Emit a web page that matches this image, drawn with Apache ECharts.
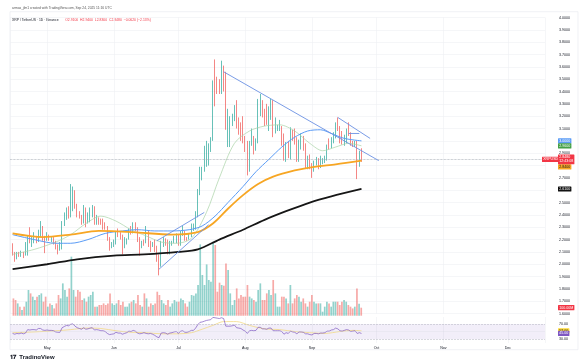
<!DOCTYPE html>
<html><head><meta charset="utf-8">
<script src="https://cdn.jsdelivr.net/npm/echarts@6/dist/echarts.min.js"></script>
<style>html,body{margin:0;padding:0;background:#fff}#c{width:585px;height:359px}</style>
</head><body><div id="c"></div>
<script>
// ---------- DATA ----------
const firstOpen = 2.13;
const closeApr = [2.08,2.05,2.08,2.07,2.09,2.07,2.09,2.20,2.19,2.20,2.20,2.19,2.27,2.27,2.21,2.20];
const highApr  = [2.17,2.10,2.10,2.10,2.11,2.10,2.18,2.23,2.30,2.22,2.26,2.23,2.28,2.35,2.31,2.23];
const lowApr   = [2.07,2.02,2.04,2.06,2.06,2.05,2.07,2.07,2.17,2.14,2.17,2.17,2.18,2.22,2.19,2.09];
const closeMay = [2.21,2.20,2.20,2.18,2.14,2.13,2.13,2.33,2.39,2.44,2.43,2.55,2.58,2.48,2.41,2.39,2.36,2.45,2.36,2.39,2.42,2.46,2.34,2.38,2.36,2.33,2.32,2.30,2.21,2.16,2.17];
const highMay  = [2.26,2.24,2.22,2.22,2.19,2.16,2.18,2.35,2.42,2.46,2.47,2.65,2.63,2.60,2.49,2.43,2.40,2.48,2.46,2.42,2.46,2.48,2.47,2.40,2.38,2.37,2.37,2.34,2.31,2.22,2.18];
const lowMay   = [2.19,2.19,2.18,2.16,2.12,2.08,2.11,2.12,2.31,2.36,2.37,2.38,2.43,2.45,2.38,2.37,2.32,2.33,2.30,2.33,2.34,2.38,2.32,2.32,2.32,2.32,2.28,2.28,2.19,2.11,2.13];
const closeJun = [2.19,2.26,2.23,2.22,2.14,2.17,2.20,2.27,2.26,2.32,2.29,2.20,2.16,2.18,2.17,2.21,2.17,2.16,2.17,2.14,2.06,2.01,2.18,2.19,2.17,2.12,2.17,2.18,2.22,2.23];
const highJun  = [2.20,2.27,2.29,2.26,2.24,2.22,2.21,2.29,2.31,2.34,2.34,2.30,2.22,2.19,2.20,2.31,2.27,2.19,2.18,2.20,2.15,2.08,2.19,2.22,2.21,2.20,2.19,2.19,2.23,2.25];
const lowJun   = [2.14,2.16,2.22,2.20,2.08,2.13,2.16,2.20,2.24,2.25,2.27,2.18,2.07,2.13,2.15,2.17,2.14,2.10,2.14,2.10,2.02,1.91,1.98,2.14,2.15,2.08,2.08,2.15,2.17,2.17];
const closeJul = [2.16,2.25,2.27,2.21,2.20,2.23,2.29,2.29,2.39,2.59,2.74,2.77,2.83,2.90,2.94,3.00,3.46,3.45,3.43,3.42,3.56,3.52,3.14,3.15,3.16,3.19,3.25,3.11,3.10,3.09,2.99];
const highJul  = [2.24,2.27,2.31,2.27,2.22,2.25,2.33,2.33,2.43,2.61,2.79,2.79,2.96,3.00,2.98,3.03,3.49,3.66,3.52,3.50,3.65,3.61,3.56,3.26,3.20,3.22,3.29,3.33,3.19,3.15,3.20];
const lowJul   = [2.15,2.15,2.23,2.19,2.19,2.20,2.22,2.27,2.28,2.38,2.56,2.68,2.75,2.79,2.80,2.91,3.00,3.28,3.38,3.38,3.38,3.40,3.09,2.95,2.95,3.12,3.16,3.10,3.05,3.00,2.98];
const closeAug = [2.93,2.77,2.98,3.00,2.98,3.00,3.30,3.31,3.21,3.19,3.16,3.26,3.27,3.09,3.10,3.10,3.10,3.05,2.86,2.97,2.89,3.08,3.02,3.00,2.85,3.00,3.00,2.97,2.83,2.84,2.78];
const highAug  = [3.04,3.00,3.00,3.10,3.04,3.02,3.34,3.38,3.33,3.26,3.30,3.28,3.34,3.33,3.19,3.13,3.17,3.12,3.06,2.99,3.00,3.11,3.09,3.10,3.03,3.01,3.06,3.04,2.98,2.88,2.89];
const lowAug   = [2.91,2.72,2.75,2.96,2.89,2.92,2.98,3.20,3.19,3.12,3.13,3.08,3.17,3.03,3.06,3.08,3.08,2.96,2.84,2.83,2.86,2.85,3.00,2.97,2.83,2.83,2.93,2.92,2.78,2.77,2.77];
const closeSep = [2.75,2.82,2.83,2.80,2.83,2.84,2.86,2.95,2.94,3.02,3.03,3.14,3.10,3.01,2.99,3.03,3.07,3.05,2.98,2.97,2.99,2.84,2.91,2.848];
const highSep  = [2.82,2.84,2.87,2.86,2.88,2.86,2.88,2.97,3.02,3.03,3.07,3.15,3.19,3.12,3.08,3.05,3.10,3.15,3.07,3.00,3.00,3.00,2.92,2.94];
const lowSep   = [2.70,2.75,2.80,2.77,2.78,2.81,2.82,2.84,2.93,2.94,2.98,3.02,3.08,2.98,2.97,2.96,2.98,3.04,2.96,2.95,2.95,2.69,2.79,2.83];

// volume (millions XRP)
const volApr = [216,196,154,113,71,113,175,321,279,238,196,238,259,279,175,238];
const volMay = [113,154,134,91,154,259,216,404,321,238,341,738,321,238,321,300,196,216,175,238,259,300,113,113,134,134,154,134,154,279,154];
const volJun = [134,154,196,134,175,113,113,154,175,196,154,259,134,113,279,216,113,154,134,154,300,259,196,154,134,196,113,154,196,175];
const volJul = [175,216,196,154,113,175,259,250,279,384,891,509,384,641,446,425,925,884,300,413,384,375,654,571,279,134,196,341,216,259,238];
const volAug = [238,384,238,216,196,175,321,404,196,196,279,321,259,446,279,113,113,238,238,216,154,384,154,216,259,238,175,216,154,113,175];
const volSep = [259,175,154,154,154,50,113,175,154,113,175,175,175,134,175,196,175,134,113,91,113,341,150,100];

// RSI(14)
const rsiApr = [45,43,45,44,46,44,46,55,54,55,55,54,58,58,54,53];
const rsiMay = [54,53,53,52,49,48,48,60,63,66,65,69,70,64,60,58,56,60,56,57,59,60,54,55,54,52,52,50,45,42,43];
const rsiJun = [44,48,46,46,43,45,47,51,50,53,51,46,44,45,47,45,44,45,43,40,36,34,46,47,46,43,46,47,49,50];
const rsiJul = [45,51,52,48,48,50,53,53,59,68,74,75,77,79,80,81,87,86,85,84,86,84,64,64,64,65,67,60,59,58,54];
const rsiAug = [51,45,52,53,52,53,61,61,57,57,56,59,59,52,52,52,52,50,43,47,45,51,49,48,44,49,49,48,44,44,42];
const rsiSep = [41,45,45,44,46,46,47,51,51,54,55,59,57,52,51,53,55,54,50,51,52,45,47,45];
const rsiMA = [['2025-04-15',47],['2025-04-25',49],['2025-05-05',52],['2025-05-12',55],['2025-05-19',59],['2025-05-26',58],['2025-06-02',52],['2025-06-09',48],['2025-06-16',47],['2025-06-23',44],['2025-06-30',44],['2025-07-07',47],['2025-07-12',56],['2025-07-17',66],['2025-07-22',76],['2025-07-28',76],['2025-08-03',66],['2025-08-10',57],['2025-08-17',55],['2025-08-24',50],['2025-08-31',47],['2025-09-07',45],['2025-09-14',50],['2025-09-20',53],['2025-09-24',52]];

// moving averages
const ma20 = [['2025-04-15',2.08],['2025-04-25',2.12],['2025-05-05',2.18],['2025-05-12',2.24],['2025-05-19',2.33],['2025-05-26',2.39],['2025-06-02',2.35],['2025-06-09',2.28],['2025-06-16',2.23],['2025-06-23',2.18],['2025-06-30',2.17],['2025-07-07',2.21],['2025-07-14',2.42],['2025-07-20',2.70],['2025-07-27',2.98],['2025-08-03',3.08],['2025-08-10',3.12],['2025-08-17',3.13],['2025-08-24',3.08],['2025-08-31',2.98],['2025-09-06',2.92],['2025-09-12',2.95],['2025-09-18',2.98],['2025-09-24',2.96]];
const ma50 = [['2025-04-15',2.24],['2025-04-25',2.20],['2025-05-05',2.17],['2025-05-12',2.17],['2025-05-20',2.20],['2025-05-28',2.25],['2025-06-05',2.27],['2025-06-12',2.28],['2025-06-20',2.27],['2025-06-28',2.27],['2025-07-06',2.28],['2025-07-12',2.31],['2025-07-18',2.39],['2025-07-24',2.50],['2025-07-31',2.63],['2025-08-06',2.75],['2025-08-12',2.85],['2025-08-18',2.95],['2025-08-24',3.03],['2025-08-30',3.08],['2025-09-05',3.09],['2025-09-10',3.06],['2025-09-16',3.02],['2025-09-24',3.00]];
const ma100 = [['2025-04-15',2.25],['2025-04-29',2.22],['2025-05-12',2.24],['2025-05-25',2.27],['2025-06-10',2.26],['2025-06-28',2.24],['2025-07-10',2.26],['2025-07-17',2.33],['2025-07-24',2.45],['2025-07-31',2.56],['2025-08-07',2.65],['2025-08-14',2.71],['2025-08-24',2.76],['2025-09-02',2.79],['2025-09-12',2.81],['2025-09-24',2.84]];
const ma200 = [['2025-04-15',1.96],['2025-05-01',2.00],['2025-05-15',2.04],['2025-06-01',2.07],['2025-06-15',2.08],['2025-07-01',2.10],['2025-07-10',2.12],['2025-07-20',2.20],['2025-07-31',2.28],['2025-08-10',2.36],['2025-08-20',2.43],['2025-08-31',2.50],['2025-09-10',2.55],['2025-09-24',2.61]];

// drawn trend lines
const trendLines = [
  [['2025-07-22',3.56],['2025-10-02',2.84]],
  [['2025-09-13',3.19],['2025-09-28',3.02]],
  [['2025-09-18',3.06],['2025-09-23',3.06]],
  [['2025-06-21',2.19],['2025-07-13',2.42]],
  [['2025-06-22',1.96],['2025-07-15',2.32]]
];
const ma100TagPos = 2.785;
const priceTicks = {min:1.6, max:4.0, step:0.1};
const monthNames = ['Jan','Feb','Mar','Apr','May','Jun','Jul','Aug','Sep','Oct','Nov','Dec'];

// ---------- BUILD ----------
const DAY = 86400000;
const closes = [].concat(closeApr,closeMay,closeJun,closeJul,closeAug,closeSep);
const highs  = [].concat(highApr,highMay,highJun,highJul,highAug,highSep);
const lows   = [].concat(lowApr,lowMay,lowJun,lowJul,lowAug,lowSep);
const vols   = [].concat(volApr,volMay,volJun,volJul,volAug,volSep);
const rsi    = [].concat(rsiApr,rsiMay,rsiJun,rsiJul,rsiAug,rsiSep);
const t0 = Date.UTC(2025,3,15);
const times = closes.map((_,i)=>t0+i*DAY);
const opens = closes.map((c,i)=> i===0 ? firstOpen : closes[i-1]);
const toTs = s => { const p = s.split('-').map(Number); return Date.UTC(p[0],p[1]-1,p[2]); };
const pairs = a => a.map(([d,v]) => [toTs(d), v]);

const may1 = Date.UTC(2025,4,1);
const xMin = may1 - 17.2*DAY, xMax = may1 + 231.2*DAY;
const upC = '#26a69a', dnC = '#ef5350';
const font = '"Liberation Sans", Arial, sans-serif';
const fs = 3.6;
const last = a => a[a.length-1];
const HIDDEN = {color:'rgba(0,0,0,0)', width:0.01, type:'solid'};

function xAxisFor(gi, showLabel, split){
  return {type:'time', gridIndex:gi, min:xMin, max:xMax, minInterval:28*DAY, maxInterval:31*DAY,
    axisLine:{show:false}, axisTick:{show:false},
    splitLine:{show:split, lineStyle:{color:'#eef0f4', width:0.6}},
    axisLabel:{show:showLabel, fontSize:fs, color:'#131722', fontFamily:font, margin:3,
      showMinLabel:false, showMaxLabel:false, formatter: v => monthNames[new Date(v).getUTCMonth()]}};
}
function tag(val, text, bg, fg, extra){
  extra = extra || {};
  return Object.assign({yAxis:val, lineStyle:HIDDEN,
    label:Object.assign({show:true, position:'end', distance:13, formatter:text, backgroundColor:bg, color:fg,
      fontSize:fs, fontFamily:font, padding:[0.8,1.2,0.4,1.2], borderRadius:0.5}, extra.label || {})}, extra.item || {});
}

const lastClose = last(closes);
const priceTags = [
  tag(last(ma50)[1], last(ma50)[1].toFixed(4), '#5b9cf6', '#fff'),
  tag(last(ma20)[1], last(ma20)[1].toFixed(4), '#43a047', '#fff'),
  tag(ma100TagPos, last(ma100)[1].toFixed(4), '#f7a623', '#131722'),
  tag(last(ma200)[1], last(ma200)[1].toFixed(4), '#111', '#fff'),
  tag(lastClose, 'XRPUSDT', '#f23645', '#fff', {label:{distance:-3}}),
  tag(lastClose, lastClose.toFixed(4)+'\n12:43:08', '#f23645', '#fff',
      {item:{lineStyle:{color:'#9aa0aa', type:'dotted', width:0.7}}, label:{lineHeight:4.2}})
];

const lineSeries = (data, color, width, z) => ({type:'line', xAxisIndex:0, yAxisIndex:0, data:pairs(data),
  showSymbol:false, symbol:'none', smooth:0.3, lineStyle:{color, width}, z, silent:true});

const series = [
  {type:'candlestick', xAxisIndex:0, yAxisIndex:0, z:3,
   data: times.map((t,i)=>[t,opens[i],closes[i],lows[i],highs[i]]), encode:{x:0, y:[1,2,3,4]},
   barWidth:1.0, itemStyle:{color:upC, color0:dnC, borderColor:upC, borderColor0:dnC, borderWidth:0.7},
   markLine:{silent:true, symbol:['none','none'], animation:false, data: priceTags}},
  {type:'bar', xAxisIndex:1, yAxisIndex:1, barWidth:1.7, z:1,
   data: times.map((t,i)=>({value:[t,vols[i]], itemStyle:{color: closes[i]>=opens[i] ? 'rgba(38,166,154,0.5)' : 'rgba(239,83,80,0.5)'}})),
   markLine:{silent:true, symbol:['none','none'], animation:false,
     data:[tag(last(vols), last(vols).toFixed(2)+'M', '#f23645', '#fff')]}},
  lineSeries(ma20, '#a9d3a6', 0.7, 4),
  lineSeries(ma50, '#5b9cf6', 1, 4),
  lineSeries(ma100, '#f7a623', 1.8, 4),
  lineSeries(ma200, '#161616', 1.8, 4),
  ...trendLines.map(seg => ({type:'line', xAxisIndex:0, yAxisIndex:0, data:pairs(seg), showSymbol:false, symbol:'none',
     lineStyle:{color:'#6b91e3', width:0.9}, z:6, silent:true})),
  {type:'line', xAxisIndex:2, yAxisIndex:2, data: times.map((t,i)=>[t,rsi[i]]), showSymbol:false, symbol:'none',
   lineStyle:{color:'#7e57c2', width:0.7}, z:4, silent:true,
   markArea:{silent:true, itemStyle:{color:'rgba(126,87,194,0.1)'}, data:[[{yAxis:30},{yAxis:70}]]},
   markLine:{silent:true, symbol:['none','none'], animation:false, data:[
     {yAxis:70, lineStyle:{color:'#b2b5be', type:'dashed', width:0.5}, label:{show:false}},
     {yAxis:50, lineStyle:{color:'#d1d4dc', type:'dotted', width:0.5}, label:{show:false}},
     {yAxis:30, lineStyle:{color:'#b2b5be', type:'dashed', width:0.5}, label:{show:false}},
     tag(last(rsiMA)[1], last(rsiMA)[1].toFixed(2), '#fdd835', '#131722'),
     tag(last(rsi), last(rsi).toFixed(2), '#7e57c2', '#fff')
   ]}},
  {type:'line', xAxisIndex:2, yAxisIndex:2, data: pairs(rsiMA), showSymbol:false, symbol:'none', smooth:0.3,
   lineStyle:{color:'#f2d675', width:0.7}, z:3, silent:true}
];

const option = {
  animation:false, useUTC:true, backgroundColor:'#fff',
  grid:[
    {left:10, right:40, top:17.5, bottom:45.4},
    {left:10, right:40, top:235.7, bottom:43.3},
    {left:10, right:40, top:317, bottom:16}
  ],
  xAxis:[xAxisFor(0,false,true), xAxisFor(1,false,false), xAxisFor(2,true,true)],
  yAxis:[
    {type:'value', gridIndex:0, position:'right', min:priceTicks.min, max:priceTicks.max, interval:priceTicks.step,
     axisLine:{show:false}, axisTick:{show:false}, splitLine:{lineStyle:{color:'#eef0f4', width:0.6}},
     axisLabel:{fontSize:fs, color:'#131722', fontFamily:font, margin:14, formatter:v=>v.toFixed(4)}},
    {type:'value', gridIndex:1, min:0, max:1000, show:false, splitLine:{show:false}},
    {type:'value', gridIndex:2, position:'right', min:20, max:88, interval:10,
     axisLine:{show:false}, axisTick:{show:false}, splitLine:{show:false},
     axisLabel:{fontSize:fs, color:'#131722', fontFamily:font, margin:14, formatter:v=> (v===30||v===70) ? v.toFixed(2) : ''}}
  ],
  graphic:[
    {type:'rect', shape:{x:10, y:11.7, width:568, height:338}, style:{fill:'none', stroke:'#e6e8ee', lineWidth:0.6}, silent:true},
    {type:'text', left:12, top:6.2, style:{text:'armas_jlm1 created with TradingView.com, Sep 24, 2025 11:16 UTC', fontSize:3.3, fill:'#555', fontFamily:font}},
    {type:'text', left:12, top:13.8, style:{text:'{n|XRP / TetherUS · 1D · Binance}  {r|O2.9100  H2.9400  L2.8300  C2.8480  −0.0620 (−2.13%)}',
      rich:{n:{fontSize:3.4, fill:'#131722', fontFamily:font}, r:{fontSize:3.4, fill:'#f23645', fontFamily:font}}}},
    {type:'text', left:10, top:351.5, style:{text:'{l|𝟏𝟕} {t|TradingView}', rich:{l:{fontSize:6, fill:'#131722', fontWeight:'bold', fontFamily:font}, t:{fontSize:6, fill:'#131722', fontWeight:'bold', fontFamily:font}}}}
  ],
  series
};
const chart = echarts.init(document.getElementById('c'), null, {renderer:'canvas'});
chart.setOption(option);
</script></body></html>
